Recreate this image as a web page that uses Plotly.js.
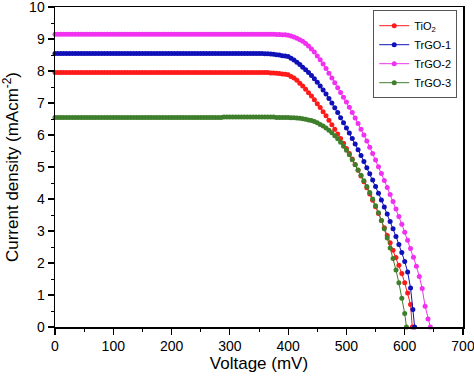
<!DOCTYPE html>
<html>
<head>
<meta charset="utf-8">
<script src="https://cdn.plot.ly/plotly-3.0.1.min.js"></script>
<style>html,body{margin:0;padding:0;background:#fff;}#chart{width:474px;height:380px;}</style>
</head>
<body>
<div id="chart"></div>
<script>
// ---- Data ----
const seriesNames = ["TiO<sub>2</sub>", "TrGO-1", "TrGO-2", "TrGO-3"];

// shared plateau voltages (0 .. 395 mV, 5 mV step)
const vPlateau = [0,5,10,15,20,25,30,35,40,45,50,55,60,65,70,75,80,85,90,95,
  100,105,110,115,120,125,130,135,140,145,150,155,160,165,170,175,180,185,190,195,
  200,205,210,215,220,225,230,235,240,245,250,255,260,265,270,275,280,285,290,295,
  300,305,310,315,320,325,330,335,340,345,350,355,360,365,370,375,380,385,390,395];

const jTiO2Plateau = [7.95,7.95,7.95,7.95,7.95,7.95,7.95,7.95,7.95,7.95,7.95,7.95,7.95,7.95,7.95,7.95,7.95,7.95,7.95,7.95,
  7.95,7.95,7.95,7.95,7.95,7.95,7.95,7.95,7.95,7.95,7.95,7.95,7.95,7.95,7.95,7.95,7.95,7.95,7.95,7.95,
  7.95,7.95,7.95,7.95,7.95,7.95,7.95,7.95,7.95,7.95,7.95,7.95,7.95,7.95,7.95,7.95,7.95,7.95,7.95,7.95,
  7.95,7.95,7.95,7.95,7.95,7.95,7.95,7.95,7.95,7.95,7.95,7.95,7.95,7.95,7.94,7.94,7.93,7.92,7.91,7.90];
const jTrGO1Plateau = [8.55,8.55,8.55,8.55,8.55,8.55,8.55,8.55,8.55,8.55,8.55,8.55,8.55,8.55,8.55,8.55,8.55,8.55,8.55,8.55,
  8.55,8.55,8.55,8.55,8.55,8.55,8.55,8.55,8.55,8.55,8.55,8.55,8.55,8.55,8.55,8.55,8.55,8.55,8.55,8.55,
  8.55,8.55,8.55,8.55,8.55,8.55,8.55,8.55,8.55,8.55,8.55,8.55,8.55,8.55,8.55,8.55,8.55,8.55,8.55,8.55,
  8.55,8.55,8.55,8.55,8.55,8.55,8.55,8.55,8.55,8.55,8.55,8.55,8.54,8.54,8.53,8.52,8.51,8.50,8.48,8.47];
const jTrGO2Plateau = [9.15,9.15,9.15,9.15,9.15,9.15,9.15,9.15,9.15,9.15,9.15,9.15,9.15,9.15,9.15,9.15,9.15,9.15,9.15,9.15,
  9.15,9.15,9.15,9.15,9.15,9.15,9.15,9.15,9.15,9.15,9.15,9.15,9.15,9.15,9.15,9.15,9.15,9.15,9.15,9.15,
  9.15,9.15,9.15,9.15,9.15,9.15,9.15,9.15,9.15,9.15,9.15,9.15,9.15,9.15,9.15,9.15,9.15,9.15,9.15,9.15,
  9.15,9.15,9.15,9.15,9.15,9.15,9.15,9.15,9.15,9.15,9.15,9.15,9.15,9.15,9.15,9.15,9.14,9.14,9.13,9.13];
const jTrGO3Plateau = [6.55,6.55,6.55,6.55,6.55,6.55,6.55,6.55,6.55,6.55,6.55,6.55,6.55,6.55,6.55,6.55,6.55,6.55,6.55,6.55,
  6.55,6.55,6.55,6.55,6.55,6.55,6.55,6.55,6.55,6.55,6.55,6.55,6.55,6.55,6.55,6.55,6.55,6.55,6.55,6.55,
  6.55,6.55,6.55,6.55,6.55,6.55,6.55,6.55,6.55,6.55,6.55,6.55,6.55,6.55,6.55,6.55,6.55,6.55,6.56,6.56,
  6.56,6.56,6.56,6.56,6.56,6.56,6.56,6.56,6.56,6.56,6.56,6.56,6.56,6.56,6.56,6.56,6.55,6.55,6.55,6.55];

// knee / fall-off region
const vTiO2Tail = [400,405,410,415,420,425,430,435,440,445,450,455,460,465,470,475,480,485,490,495,500,505,510,515,520,525,530,535,540,545,550,555,560,565,570,575,580,585,590,595,600,605,610,613];
const jTiO2Tail = [7.88,7.83,7.78,7.71,7.62,7.53,7.43,7.32,7.22,7.10,6.98,6.86,6.73,6.60,6.46,6.32,6.18,6.03,5.89,5.74,5.58,5.42,5.25,5.08,4.90,4.72,4.54,4.35,4.16,3.96,3.76,3.55,3.33,3.10,2.86,2.63,2.40,2.17,1.93,1.67,1.38,1.06,0.70,0];

const vTrGO1Tail = [400,405,410,415,420,425,430,435,440,445,450,455,460,465,470,475,480,485,490,495,500,505,510,515,520,525,530,535,540,545,550,555,560,565,570,575,580,585,590,595,600,605,610,614,617];
const jTrGO1Tail = [8.45,8.40,8.34,8.27,8.20,8.12,8.04,7.95,7.86,7.76,7.65,7.53,7.41,7.28,7.14,7.00,6.85,6.70,6.54,6.38,6.22,6.06,5.89,5.72,5.54,5.36,5.17,4.98,4.79,4.59,4.39,4.18,3.97,3.75,3.53,3.30,3.07,2.83,2.58,2.33,2.05,1.72,1.22,0.55,0];

const vTrGO2Tail = [400,405,410,415,420,425,430,435,440,445,450,455,460,465,470,475,480,485,490,495,500,505,510,515,520,525,530,535,540,545,550,555,560,565,570,575,580,585,590,595,600,605,610,615,620,625,630,635,640,644];
const jTrGO2Tail = [9.12,9.09,9.06,9.02,8.98,8.93,8.86,8.78,8.69,8.59,8.47,8.35,8.22,8.08,7.93,7.78,7.63,7.48,7.33,7.18,7.03,6.87,6.70,6.53,6.36,6.18,6.00,5.81,5.62,5.42,5.22,5.01,4.80,4.58,4.36,4.14,3.92,3.69,3.45,3.21,2.96,2.71,2.45,2.18,1.90,1.58,1.20,0.65,0.25,0];

const vTrGO3Tail = [400,405,410,415,420,425,430,435,440,445,450,455,460,465,470,475,480,485,490,495,500,505,510,515,520,525,530,535,540,545,550,555,560,565,570,575,580,585,590,595,600,603];
const jTrGO3Tail = [6.55,6.54,6.54,6.53,6.52,6.51,6.49,6.47,6.45,6.42,6.38,6.33,6.28,6.22,6.15,6.07,5.98,5.88,5.77,5.65,5.52,5.38,5.23,5.07,4.91,4.74,4.57,4.39,4.20,4.00,3.79,3.57,3.33,3.07,2.78,2.47,2.14,1.78,1.38,0.90,0.42,0];

const xTicks = [0,100,200,300,400,500,600,700];
const yTicks = [0,1,2,3,4,5,6,7,8,9,10];
const colors = ["#ff1a1a", "#1010b8", "#f032f0", "#3f7f2c"];

// ---- Plot ----
const xs = [vPlateau.concat(vTiO2Tail), vPlateau.concat(vTrGO1Tail), vPlateau.concat(vTrGO2Tail), vPlateau.concat(vTrGO3Tail)];
const ys = [jTiO2Plateau.concat(jTiO2Tail), jTrGO1Plateau.concat(jTrGO1Tail), jTrGO2Plateau.concat(jTrGO2Tail), jTrGO3Plateau.concat(jTrGO3Tail)];
const traces = xs.map((x, i) => ({
  x: x, y: ys[i], name: seriesNames[i], type: "scatter", mode: "lines+markers",
  line: {color: colors[i], width: 1},
  marker: {color: colors[i], size: 5, symbol: "circle"},
  cliponaxis: false
}));

const fontFam = "'Liberation Sans', Arial, sans-serif";
const axisCommon = {
  showline: true, linecolor: "#000", linewidth: 1.5, mirror: true,
  ticks: "outside", ticklen: 6, tickwidth: 1.2, tickcolor: "#000",
  showgrid: false, zeroline: false, ticklabeloverflow: "allow",
  tickfont: {family: fontFam, size: 14, color: "#000"}
};

const layout = {
  width: 474, height: 380,
  margin: {l: 55, r: 11, t: 7, b: 53},
  paper_bgcolor: "#fff", plot_bgcolor: "#fff",
  font: {family: fontFam, color: "#000"},
  showlegend: true,
  legend: {
    x: 0.78, y: 0.99, xanchor: "left", yanchor: "top",
    bgcolor: "#fff", bordercolor: "#555", borderwidth: 1,
    font: {family: fontFam, size: 11, color: "#000"},
    itemwidth: 30, tracegroupgap: 0
  },
  xaxis: Object.assign({}, axisCommon, {
    range: [0, 700], tickvals: xTicks, ticktext: xTicks.map(String),
    minor: {dtick: 50, ticks: "outside", ticklen: 3, tickcolor: "#000", tickwidth: 1},
    title: {text: "Voltage (mV)", font: {family: fontFam, size: 17, color: "#000"}, standoff: 4}
  }),
  yaxis: Object.assign({}, axisCommon, {
    range: [0, 10], tickvals: yTicks, ticktext: yTicks.map(String),
    minor: {dtick: 0.5, ticks: "outside", ticklen: 3, tickcolor: "#000", tickwidth: 1},
    title: {text: "Current density (mAcm<sup>-2</sup>)", font: {family: fontFam, size: 17, color: "#000"}, standoff: 8}
  })
};

Plotly.newPlot("chart", traces, layout, {displayModeBar: false, staticPlot: true});
</script>
</body>
</html>
